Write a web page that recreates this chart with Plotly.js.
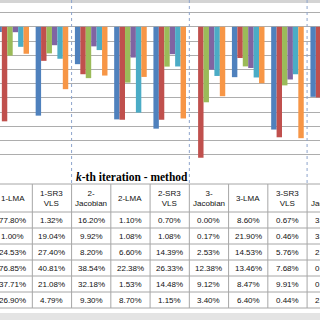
<!DOCTYPE html>
<html>
<head>
<meta charset="utf-8">
<script src="https://cdn.plot.ly/plotly-3.0.1.min.js"></script>
<style>html,body{margin:0;padding:0;background:#fff;}#chart{width:320px;height:320px;}</style>
</head>
<body>
<div id="chart"></div>
<script>
// ---- data ----
const categories = ['1-LMA','1-SR3 VLS','2-Jacobian','2-LMA','2-SR3 VLS','3-Jacobian','3-LMA','3-SR3 VLS','4-Jacobian'];
const headerLabels = ['1-LMA','1-SR3<br>VLS','2-<br>Jacobian','2-LMA','2-SR3<br>VLS','3-<br>Jacobian','3-LMA','3-SR3<br>VLS','4-<br>Jacobian'];
const series1 = [77.80, 1.32, 16.20, 1.10, 0.70, 0.00, 8.60, 0.67, 3.30];
const series2 = [1.00, 19.04, 9.92, 1.08, 1.08, 0.17, 21.90, 0.46, 3.20];
const series3 = [24.53, 27.40, 8.20, 6.60, 14.39, 2.53, 14.53, 5.76, 2.50];
const series4 = [76.85, 40.81, 38.54, 22.38, 26.33, 12.38, 13.46, 7.68, 0.80];
const series5 = [37.71, 21.08, 32.18, 1.53, 14.48, 9.12, 8.47, 9.91, 0.60];
const series6 = [26.90, 4.79, 9.30, 8.70, 1.15, 3.40, 6.40, 0.44, 2.10];
const axisTitle = '<b><i>k</i>-th iteration - method</b>';
const axisCross = 100; // log axis crosses at 100%

// ---- styling ----
const allSeries = [series1, series2, series3, series4, series5, series6];
const colors = ['#4F81BD','#C0504D','#9BBB59','#8064A2','#4BACC6','#F79646'];
const H = 320;
const py = p => 1 - p / H;

const traces = allSeries.map((s, k) => ({
  type: 'bar',
  x: categories,
  y: s.map(v => v > 0 ? v - axisCross : null),
  base: axisCross,
  marker: {color: colors[k], line: {width: 0}},
  hoverinfo: 'skip',
  showlegend: false
}));

const shapes = [];
const annotations = [];
const gridCol = '#adadad';
const tableCol = '#a6a6a6';

// top / bottom grey bands
shapes.push({type:'rect', xref:'paper', yref:'paper', x0:0, x1:1, y0:py(3), y1:py(0), fillcolor:'#d4d4d4', line:{width:0}, layer:'below'});
shapes.push({type:'rect', xref:'paper', yref:'paper', x0:0, x1:1, y0:py(320), y1:py(313), fillcolor:'#e4e4e4', line:{width:0}});

// table horizontal lines
const rowTop = 212, rowH = 16;
const hLines = [184, rowTop];
for (let r = 1; r <= allSeries.length; r++) hLines.push(rowTop + r * rowH);
hLines.forEach(p => shapes.push({type:'line', xref:'paper', yref:'paper', x0:0, x1:1, y0:py(p), y1:py(p), line:{color:tableCol, width:1}}));
// table vertical lines at category boundaries
for (let i = 0; i < categories.length - 1; i++) {
  shapes.push({type:'line', xref:'x', yref:'paper', x0:i+0.5, x1:i+0.5, y0:py(184), y1:py(rowTop + allSeries.length*rowH), line:{color:tableCol, width:1}});
}
// dotted iteration separators
[1.5, 4.5, 7.5].forEach(x => shapes.push({type:'line', xref:'x', yref:'paper', x0:x, x1:x, y0:py(0), y1:py(184), line:{color:'#8ea4cc', width:1, dash:'dot'}}));

const tfont = {family:'Liberation Sans, Arial, sans-serif', size:8, color:'#111'};
function cellAnn(i, text, yp, shift) {
  const a = {xref:'x', yref:'paper', y:py(yp), yanchor:'middle', text:text, showarrow:false, font:tfont, align:'center'};
  if (i < categories.length - 1) { a.x = i; a.xanchor = 'center'; }
  else { a.x = i - 0.5; a.xanchor = 'left'; a.xshift = shift; }
  return a;
}
headerLabels.forEach((h, i) => annotations.push(cellAnn(i, h, 198.5, 1.5)));
allSeries.forEach((s, r) => {
  s.forEach((v, i) => annotations.push(cellAnn(i, v.toFixed(2) + '%', rowTop + r*rowH + rowH/2, 5.5)));
});
annotations.push({xref:'paper', yref:'paper', x:131.5/320, y:py(176.5), xanchor:'center', yanchor:'middle', text:axisTitle, showarrow:false,
  font:{family:'Liberation Serif, Times New Roman, serif', size:11.5, color:'#000'}});

const layout = {
  width: 320, height: 320,
  margin: {l:0, r:0, t:0, b:0, pad:0},
  paper_bgcolor: '#fff', plot_bgcolor: '#fff',
  barmode: 'group', bargap: 0.17, bargroupgap: 0,
  xaxis: {type:'category', range:[-0.3236, 7.829], showgrid:false, showticklabels:false, zeroline:false, showline:false, ticks:'', fixedrange:true},
  yaxis: {type:'log', domain:[1 - 170/320, 1], range:[2 - (170-26.8)/47.27, 2 + 26.8/47.27], tick0:2, dtick:Math.log10(2),
          showgrid:true, gridcolor:gridCol, gridwidth:1, showticklabels:false, zeroline:false, showline:false, ticks:'', fixedrange:true},
  shapes: shapes,
  annotations: annotations
};

Plotly.newPlot('chart', traces, layout, {displayModeBar:false, staticPlot:true});
</script>
</body>
</html>
